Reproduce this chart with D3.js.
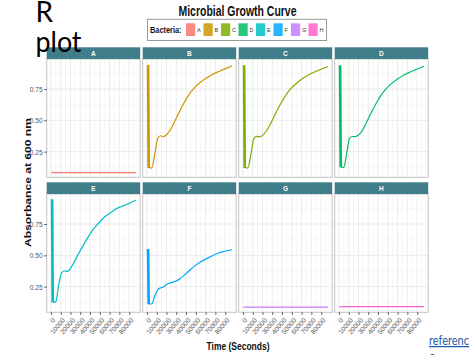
<!DOCTYPE html>
<html><head><meta charset="utf-8">
<script src="https://cdn.jsdelivr.net/npm/d3@7"></script>
<style>
html,body{margin:0;padding:0;background:#fff;}
svg{display:block;}
</style></head>
<body>
<svg id="chart" width="474" height="355"></svg>
<script>
// ---- data ----
const bacteria = ["A","B","C","D","E","F","G","H"];
const colors = ["#F8766D","#CD9600","#7CAE00","#00BE67","#00BFC4","#00A9FF","#C77CFF","#FF61CC"];
const times = [600,1200,1800,2400,5000,8000,11000,14000,17000,20000,24000,28000,33000,38000,43000,48000,54000,60000,66000,72000,78000,84000,87000];
const valA = [0.083,0.083,0.083,0.083,0.083,0.083,0.083,0.083,0.083,0.083,0.083,0.083,0.083,0.083,0.083,0.083,0.083,0.083,0.083,0.083,0.083,0.083,0.083];
const valB = [0.94,0.12,0.945,0.12,0.12,0.23,0.355,0.377,0.37,0.385,0.425,0.485,0.565,0.64,0.705,0.755,0.80,0.835,0.862,0.885,0.905,0.925,0.935];
const valC = [0.94,0.12,0.94,0.12,0.12,0.22,0.35,0.372,0.368,0.38,0.415,0.47,0.55,0.625,0.69,0.745,0.79,0.828,0.858,0.882,0.902,0.92,0.93];
const valD = [0.94,0.125,0.94,0.125,0.125,0.24,0.36,0.371,0.37,0.383,0.42,0.48,0.56,0.635,0.70,0.75,0.795,0.83,0.86,0.883,0.903,0.922,0.932];
const valE = [0.948,0.125,0.948,0.125,0.13,0.27,0.362,0.375,0.372,0.395,0.45,0.51,0.58,0.645,0.705,0.75,0.80,0.835,0.868,0.89,0.908,0.93,0.94];
const valF = [0.55,0.11,0.55,0.11,0.113,0.175,0.225,0.24,0.247,0.268,0.28,0.29,0.308,0.34,0.375,0.41,0.443,0.47,0.493,0.515,0.53,0.54,0.545];
const valG = [0.086,0.086,0.086,0.086,0.086,0.086,0.086,0.086,0.086,0.086,0.086,0.086,0.086,0.086,0.086,0.086,0.086,0.086,0.086,0.086,0.086,0.086,0.086];
const valH = [0.09,0.09,0.09,0.09,0.09,0.09,0.09,0.09,0.09,0.09,0.09,0.09,0.09,0.09,0.09,0.09,0.09,0.09,0.09,0.09,0.09,0.09,0.09];
const seriesVals = [valA,valB,valC,valD,valE,valF,valG,valH];
const xTicks = [0,10000,20000,30000,40000,50000,60000,70000,80000];
const xMinor = [5000,15000,25000,35000,45000,55000,65000,75000,85000];
const yTicks = [0.25,0.50,0.75];
const yMinor = [0.125,0.375,0.625,0.875];
const titleText = "Microbial Growth Curve";
const legendTitle = "Bacteria:";
const xTitle = "Time (Seconds)";
const yTitle = "Absorbance at 600 nm";

// ---- layout ----
const svg = d3.select("#chart");
const colLeft0 = 46.7, panelW = 93.5, colGap = 2.5;
const stripTop0 = 47.3, stripH = 11.7, panelH = 118.3, rowGap = 5;
const rowStride = stripH + panelH + rowGap;
const spikeEnd = 2400;

const x = d3.scaleLinear().domain([-4350, 91350]).range([0, panelW]);
const y = d3.scaleLinear().domain([0.045, 0.99]).range([panelH, 0]);
const fmtY = d3.format(".2f");
const lineGen = d3.line().x(d => x(d[0])).y(d => y(d[1]));

bacteria.forEach((b, i) => {
  const col = i % 4, row = Math.floor(i / 4);
  const px = colLeft0 + col * (panelW + colGap);
  const sy = stripTop0 + row * rowStride;
  const py = sy + stripH;
  const g = svg.append("g").attr("transform", `translate(${px},${py})`);
  g.append("rect").attr("width", panelW).attr("height", panelH).attr("fill", "#fff");
  // minor grid
  g.selectAll(".vmin").data(xMinor).join("line")
    .attr("x1", d => x(d)).attr("x2", d => x(d)).attr("y1", 0).attr("y2", panelH)
    .attr("stroke", "#f1f1f1").attr("stroke-width", 0.6);
  g.selectAll(".hmin").data(yMinor).join("line")
    .attr("y1", d => y(d)).attr("y2", d => y(d)).attr("x1", 0).attr("x2", panelW)
    .attr("stroke", "#f1f1f1").attr("stroke-width", 0.6);
  // major grid
  g.selectAll(".vmaj").data(xTicks).join("line")
    .attr("x1", d => x(d)).attr("x2", d => x(d)).attr("y1", 0).attr("y2", panelH)
    .attr("stroke", "#e6e6e6").attr("stroke-width", 0.8);
  g.selectAll(".hmaj").data(yTicks).join("line")
    .attr("y1", d => y(d)).attr("y2", d => y(d)).attr("x1", 0).attr("x2", panelW)
    .attr("stroke", "#e6e6e6").attr("stroke-width", 0.8);
  // data line
  const pts = times.map((t, k) => [t, seriesVals[i][k]]);
  const rest = pts.filter(d => d[0] >= spikeEnd);
  const spike = pts.filter(d => d[0] <= spikeEnd);
  g.append("path").datum(rest)
    .attr("fill", "none").attr("stroke", colors[i]).attr("stroke-width", 1.2)
    .attr("stroke-linejoin", "round")
    .attr("d", lineGen.curve(d3.curveMonotoneX)(rest));
  g.append("path").datum(spike)
    .attr("fill", "none").attr("stroke", colors[i]).attr("stroke-width", 1.5)
    .attr("stroke-linejoin", "bevel")
    .attr("d", d3.line().x(d => x(d[0])).y(d => y(d[1]))(spike));
  // border
  g.append("rect").attr("width", panelW).attr("height", panelH)
    .attr("fill", "none").attr("stroke", "#c4c4c4").attr("stroke-width", 1);
  // strip
  svg.append("rect").attr("x", px).attr("y", sy).attr("width", panelW).attr("height", stripH)
    .attr("fill", "#3f7e8a");
  svg.append("text").attr("x", px + panelW / 2).attr("y", sy + stripH / 2 + 2.4)
    .attr("text-anchor", "middle").attr("fill", "#fff")
    .attr("font-family", "Liberation Sans, Arial, sans-serif").attr("font-weight", "bold")
    .attr("font-size", 6.5).text(b);
  // y axis
  if (col === 0) {
    const ya = svg.append("g").attr("transform", `translate(${px},${py})`)
      .call(d3.axisLeft(y).tickValues(yTicks).tickSize(2.5).tickPadding(1.5).tickFormat(fmtY));
    ya.select(".domain").remove();
    ya.selectAll("line").attr("stroke", "#555");
    ya.selectAll("text").attr("fill", "#555").attr("font-size", 7.8)
      .attr("font-family", "Liberation Sans, Arial, sans-serif")
      .attr("transform", function(){ const xx = +d3.select(this).attr("x"); return `translate(${xx},0) scale(0.85,1) translate(${-xx},0)`; });
  }
  // x axis
  if (row === 1) {
    const xa = svg.append("g").attr("transform", `translate(${px},${py + panelH})`)
      .call(d3.axisBottom(x).tickValues(xTicks).tickSize(2.5).tickFormat(d3.format("d")));
    xa.select(".domain").remove();
    xa.selectAll("line").attr("stroke", "#555");
    xa.selectAll("text").attr("fill", "#555").attr("font-size", 6.8)
      .attr("font-family", "Liberation Sans, Arial, sans-serif")
      .attr("text-anchor", "end").attr("dy", "0.35em").attr("y", 0).attr("x", 0)
      .attr("transform", "translate(2.5,6.5) rotate(-50)");
  }
});

// title
svg.append("text").attr("x", 237.5).attr("y", 15.5).attr("text-anchor", "middle")
  .attr("font-family", "Liberation Sans, Arial, sans-serif").attr("font-weight", "bold")
  .attr("font-size", 14).attr("fill", "#111")
  .attr("textLength", 118).attr("lengthAdjust", "spacingAndGlyphs").text(titleText);

// legend
svg.append("rect").attr("x", 147.5).attr("y", 19.3).attr("width", 179).attr("height", 21.2)
  .attr("fill", "#fff").attr("stroke", "#9a9a9a").attr("stroke-width", 1);
svg.append("text").attr("x", 150).attr("y", 33.3)
  .attr("font-family", "Liberation Sans, Arial, sans-serif").attr("font-weight", "bold")
  .attr("font-size", 9.5).attr("fill", "#111")
  .attr("textLength", 31.5).attr("lengthAdjust", "spacingAndGlyphs").text(legendTitle);
const lx = d3.scalePoint().domain(bacteria).range([186, 308.5]);
bacteria.forEach((b, i) => {
  svg.append("rect").attr("x", lx(b)).attr("y", 23.3).attr("width", 9.2).attr("height", 12.7)
    .attr("fill", colors[i]).attr("opacity", 0.85);
  svg.append("text").attr("x", lx(b) + 11).attr("y", 32.2)
    .attr("font-family", "Liberation Sans, Arial, sans-serif")
    .attr("font-size", 5.5).attr("fill", "#333").text(b);
});

// axis titles
svg.append("text").attr("x", 238).attr("y", 350)
  .attr("text-anchor", "middle")
  .attr("font-family", "Liberation Sans, Arial, sans-serif").attr("font-weight", "bold")
  .attr("font-size", 10.5).attr("fill", "#111")
  .attr("textLength", 63).attr("lengthAdjust", "spacingAndGlyphs").text(xTitle);
svg.append("text").attr("transform", "translate(30.5,182.5) rotate(-90)")
  .attr("text-anchor", "middle")
  .attr("font-family", "Liberation Sans, Arial, sans-serif").attr("font-weight", "bold")
  .attr("font-size", 9.5).attr("fill", "#111")
  .attr("textLength", 129).attr("lengthAdjust", "spacingAndGlyphs").text(yTitle);

// slide text
svg.append("text").attr("x", 35.5).attr("y", 22)
  .attr("font-family", "Lato, 'Open Sans', sans-serif").attr("font-size", 28).attr("fill", "#000").text("R");
svg.append("text").attr("x", 35.5).attr("y", 52)
  .attr("font-family", "Lato, 'Open Sans', sans-serif").attr("font-size", 28).attr("fill", "#000")
  .attr("textLength", 46).attr("lengthAdjust", "spacingAndGlyphs").text("plot");
svg.append("text").attr("x", 429).attr("y", 345)
  .attr("font-family", "Lato, 'Open Sans', sans-serif").attr("font-size", 12.5).attr("fill", "#1f5ea8")
  .attr("text-decoration", "underline")
  .attr("textLength", 40).attr("lengthAdjust", "spacingAndGlyphs").text("referenc");
svg.append("text").attr("x", 429).attr("y", 361)
  .attr("font-family", "Lato, 'Open Sans', sans-serif").attr("font-size", 12.5).attr("fill", "#1f5ea8")
  .attr("text-decoration", "underline").text("e");
</script>
</body></html>
